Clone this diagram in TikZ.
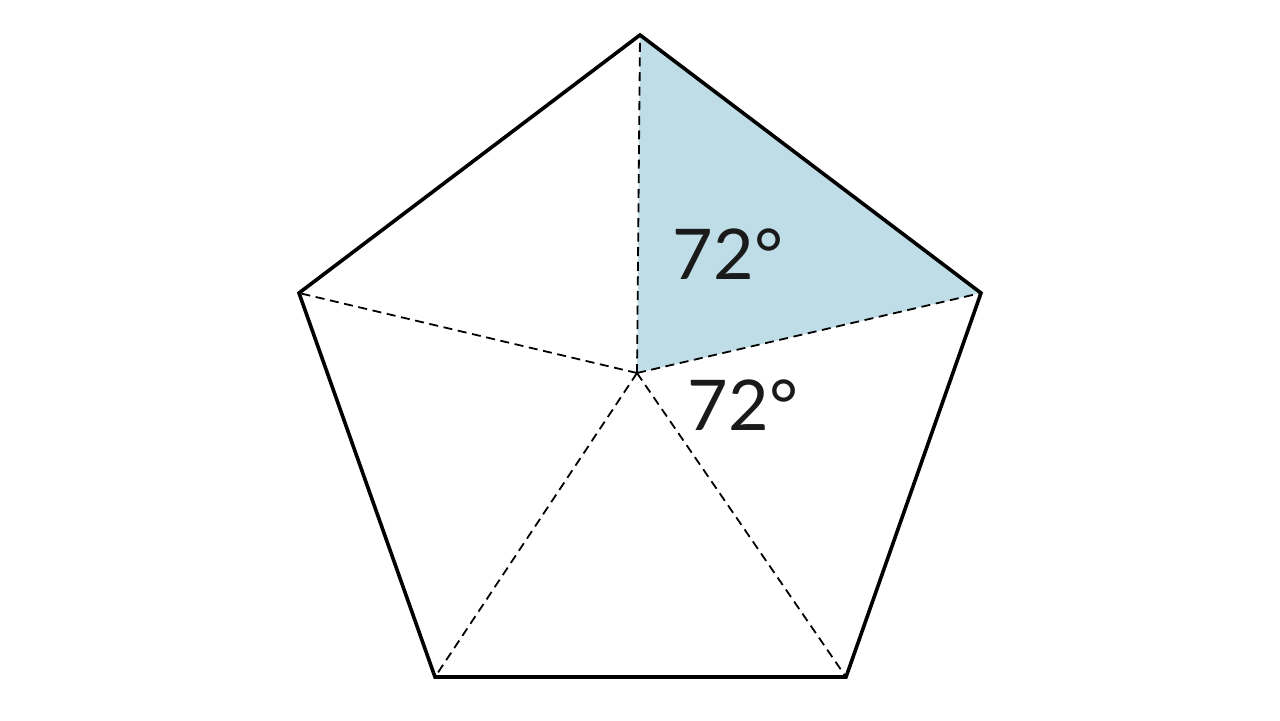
\documentclass[tikz,border=0pt]{standalone}
\usepackage{fontspec}
\setmainfont{Lato}
\definecolor{shadeblue}{HTML}{BFDDE6}
\definecolor{inkdark}{HTML}{1A1A1A}
\tikzstyle{edgeline} = [draw=black, line width=1.8pt, line join=miter]
\tikzstyle{spoke} = [draw=black, line width=0.9pt, dash pattern=on 4.5pt off 2.8pt]
\tikzstyle{anglelabel} = [text=inkdark, font=\fontsize{35}{42}\selectfont, inner sep=0pt]
\begin{document}
\begin{tikzpicture}[x=0.5pt, y=-0.5pt]
\useasboundingbox (0,0) rectangle (1280,720);
% corners of the pentagon
\coordinate (top) at (640,35);
\coordinate (right) at (981,293);
\coordinate (botright) at (846,677);
\coordinate (botleft) at (435,677);
\coordinate (left) at (299,293);
\coordinate (centre) at (637,373);

% shaded sector
\fill[shadeblue] (centre) -- (top) -- (right) -- cycle;

% spokes
\foreach \v in {top,right,botright,botleft,left}
    \draw[spoke] (centre) -- (\v);

% outline
\draw[edgeline] (top) -- (right) -- (botright) -- (botleft) -- (left) -- cycle;

\node[anglelabel] (upper) at (728,254) {72°};
\node[anglelabel] (lower) at (743,405) {72°};
\end{tikzpicture}
\end{document}
